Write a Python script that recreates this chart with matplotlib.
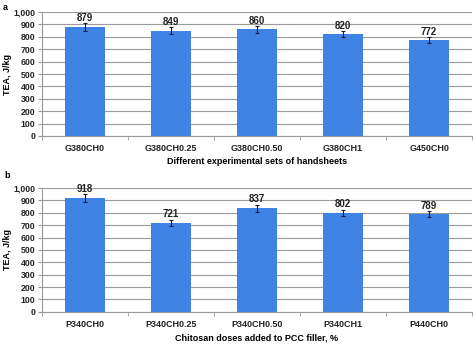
import matplotlib
matplotlib.use("Agg")
from matplotlib import pyplot as plt
import numpy as np

plt.rcParams['font.family'] = ['Liberation Sans', 'DejaVu Sans']

# TEA values and standard deviations for both series of handsheets
sets_a = ["G380CH0", "G380CH0.25", "G380CH0.50", "G380CH1", "G450CH0"]
tea_a = [879, 849, 860, 820, 772]
err_a = [30, 28, 27, 24, 24]

sets_b = ["P340CH0", "P340CH0.25", "P340CH0.50", "P340CH1", "P440CH0"]
tea_b = [918, 721, 837, 802, 789]
err_b = [32, 24, 27, 24, 22]

yticks = list(range(0, 1001, 100))
ytick_labels = ["0", "100", "200", "300", "400", "500", "600", "700", "800", "900", "1,000"]

bar_color = "#3f83e4"


def draw_panel(ax, cats, vals, errs, xlabel):
    x = np.arange(len(cats))
    ax.bar(x, vals, width=0.47, color=bar_color, zorder=2)
    ax.errorbar(x, vals, yerr=errs, fmt="none", ecolor="#1a1a40",
                elinewidth=0.8, capsize=1.5, capthick=0.8, zorder=3)
    for xi, v, e in zip(x, vals, errs):
        ax.text(xi, v + e + 4, str(v), ha="center", va="bottom",
                fontsize=7, fontweight="bold", color="#222222")
    ax.set_xlim(-0.5, len(cats) - 0.5)
    ax.set_ylim(0, 1000)
    ax.set_yticks(yticks)
    ax.set_yticklabels(ytick_labels)
    ax.set_xticks(x)
    ax.set_xticklabels(cats)
    # small separators between categories
    ax.set_xticks(np.arange(-0.5, len(cats)), minor=True)
    ax.tick_params(axis="x", which="major", length=0, pad=6, labelsize=6.5)
    ax.tick_params(axis="x", which="minor", length=3, color="#999999")
    ax.tick_params(axis="y", length=3, color="#999999", labelsize=6.3, pad=1.5)
    for lbl in ax.get_xticklabels() + ax.get_yticklabels():
        lbl.set_fontweight("bold")
        lbl.set_color("#222222")
    ax.grid(axis="y", color="#9a9a9a", linewidth=0.8, zorder=0)
    ax.set_axisbelow(True)
    for side in ("top", "right"):
        ax.spines[side].set_visible(False)
    ax.spines["left"].set_color("#999999")
    ax.spines["bottom"].set_color("#999999")
    ax.set_ylabel("TEA, J/kg", fontsize=6.5, fontweight="bold", labelpad=1)
    ax.set_xlabel(xlabel, fontsize=6.5, fontweight="bold", labelpad=3)


fig = plt.figure(figsize=(4.74, 3.45), dpi=100)
ax_a = fig.add_axes([0.088, 0.606, 0.908, 0.359])
ax_b = fig.add_axes([0.088, 0.096, 0.908, 0.359])

draw_panel(ax_a, sets_a, tea_a, err_a, "Different experimental sets of handsheets")
draw_panel(ax_b, sets_b, tea_b, err_b, "Chitosan doses added to PCC filler, %")

fig.text(0.006, 0.99, "a", fontsize=6.5, fontweight="bold", va="top")
fig.text(0.010, 0.505, "b", fontsize=6.5, fontweight="bold", va="top")

plt.savefig("out.png", dpi=100)
plt.close()
